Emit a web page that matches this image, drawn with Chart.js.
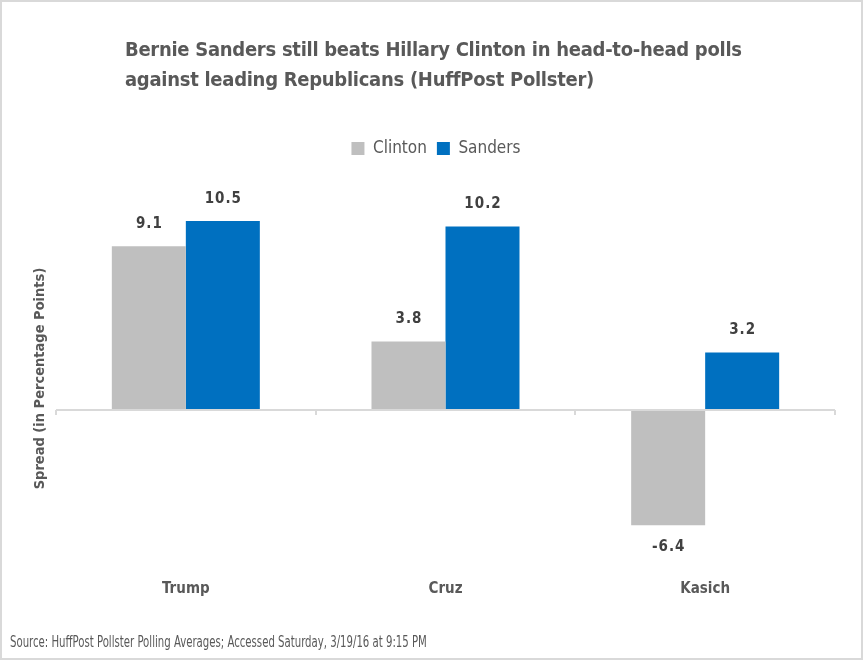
<!DOCTYPE html>
<html>
<head>
<meta charset="utf-8">
<script src="https://cdn.jsdelivr.net/npm/chart.js@4.4.1/dist/chart.umd.min.js"></script>
<style>
  html, body { margin: 0; padding: 0; background: #fff; }
  #frame {
    position: relative;
    width: 863px;
    height: 660px;
    box-sizing: border-box;
    border: 2px solid #d9d9d9;
    overflow: hidden;
    font-family: "DejaVu Sans Condensed", "Liberation Sans Narrow", "DejaVu Sans", sans-serif;
  }
  #title {
    position: absolute;
    left: 123px;
    top: 32px;
    font-size: 20px;
    font-weight: bold;
    letter-spacing: -0.28px;
    line-height: 30px;
    color: #595959;
    white-space: nowrap;
  }
  #source {
    position: absolute;
    left: 8px;
    top: 630px;
    font-size: 16px;
    color: #595959;
    white-space: nowrap;
    transform: scaleX(0.705);
    transform-origin: 0 0;
  }
  #chartBox { position: absolute; left: -2px; top: -2px; width: 863px; height: 660px; }
</style>
</head>
<body>
<div id="frame">
  <div id="chartBox"><canvas id="pollChart" width="863" height="660"></canvas></div>
  <div id="title">Bernie Sanders still beats Hillary Clinton in head-to-head polls<br>against leading Republicans (HuffPost Pollster)</div>
  <div id="source">Source: HuffPost Pollster Polling Averages; Accessed Saturday, 3/19/16 at 9:15 PM</div>
</div>
<script>
const opponents = ['Trump', 'Cruz', 'Kasich'];
const clintonSpread = [9.1, 3.8, -6.4];
const sandersSpread = [10.5, 10.2, 3.2];

const condensed = '"DejaVu Sans Condensed", "Liberation Sans Narrow", "DejaVu Sans", sans-serif';

// value labels above / below each bar, the zero axis with its little ticks, y title
const barLabels = {
    id: 'barLabels',
    afterDatasetsDraw(chart) {
        const c = chart.ctx;
        const xs = chart.scales.x;
        const area = chart.chartArea;
        const zero = chart.scales.y.getPixelForValue(0);

        c.save();
        c.strokeStyle = '#d9d9d9';
        c.lineWidth = 2;
        c.beginPath();
        c.moveTo(area.left, zero);
        c.lineTo(area.right, zero);
        for (let i = 0; i <= opponents.length; i++) {
            const px = Math.round(xs.getPixelForValue(i - 0.5));
            c.moveTo(px, zero);
            c.lineTo(px, zero + 5);
        }
        c.stroke();

        c.font = 'bold 15px ' + condensed;
        c.fillStyle = '#404040';
        c.textAlign = 'center';
        c.textBaseline = 'middle';
        c.letterSpacing = '1px';
        chart.data.datasets.forEach((ds, di) => {
            chart.getDatasetMeta(di).data.forEach((bar, i) => {
                const v = ds.data[i];
                const y = v >= 0 ? bar.y - 22 : bar.y + 22;
                c.fillText(v.toFixed(1), bar.x + 0.5, y);
            });
        });

        c.letterSpacing = '0px';
        c.font = 'bold 14.5px ' + condensed;
        c.fillStyle = '#595959';
        c.translate(area.left - 16, (area.top + area.bottom) / 2 + 9);
        c.rotate(-Math.PI / 2);
        c.fillText('Spread (in Percentage Points)', 0, 0);
        c.restore();
    }
};

new Chart(document.getElementById('pollChart'), {
    type: 'bar',
    data: {
        labels: opponents,
        datasets: [
            { label: 'Clinton', data: clintonSpread, backgroundColor: '#bfbfbf' },
            { label: 'Sanders', data: sandersSpread, backgroundColor: '#0070c0' }
        ]
    },
    options: {
        responsive: false,
        animation: false,
        layout: { padding: { top: 130, left: 37, right: 28, bottom: 54 } },
        datasets: { bar: { categoryPercentage: 0.57, barPercentage: 1 } },
        plugins: {
            legend: {
                position: 'top',
                labels: {
                    boxWidth: 13,
                    boxHeight: 13,
                    padding: 10,
                    color: '#595959',
                    font: { size: 17, family: condensed }
                }
            },
            tooltip: { enabled: false }
        },
        scales: {
            x: {
                grid: { display: false, drawTicks: false },
                border: { display: false },
                ticks: {
                    color: '#595959',
                    padding: 8,
                    font: { size: 15, weight: 'bold', family: condensed }
                }
            },
            y: {
                min: -9,
                max: 13.5,
                grid: { display: false, drawTicks: false },
                border: { display: false },
                ticks: { display: false },
                afterFit(scale) { scale.width = 19; }
            }
        }
    },
    plugins: [barLabels]
});
</script>
</body>
</html>
